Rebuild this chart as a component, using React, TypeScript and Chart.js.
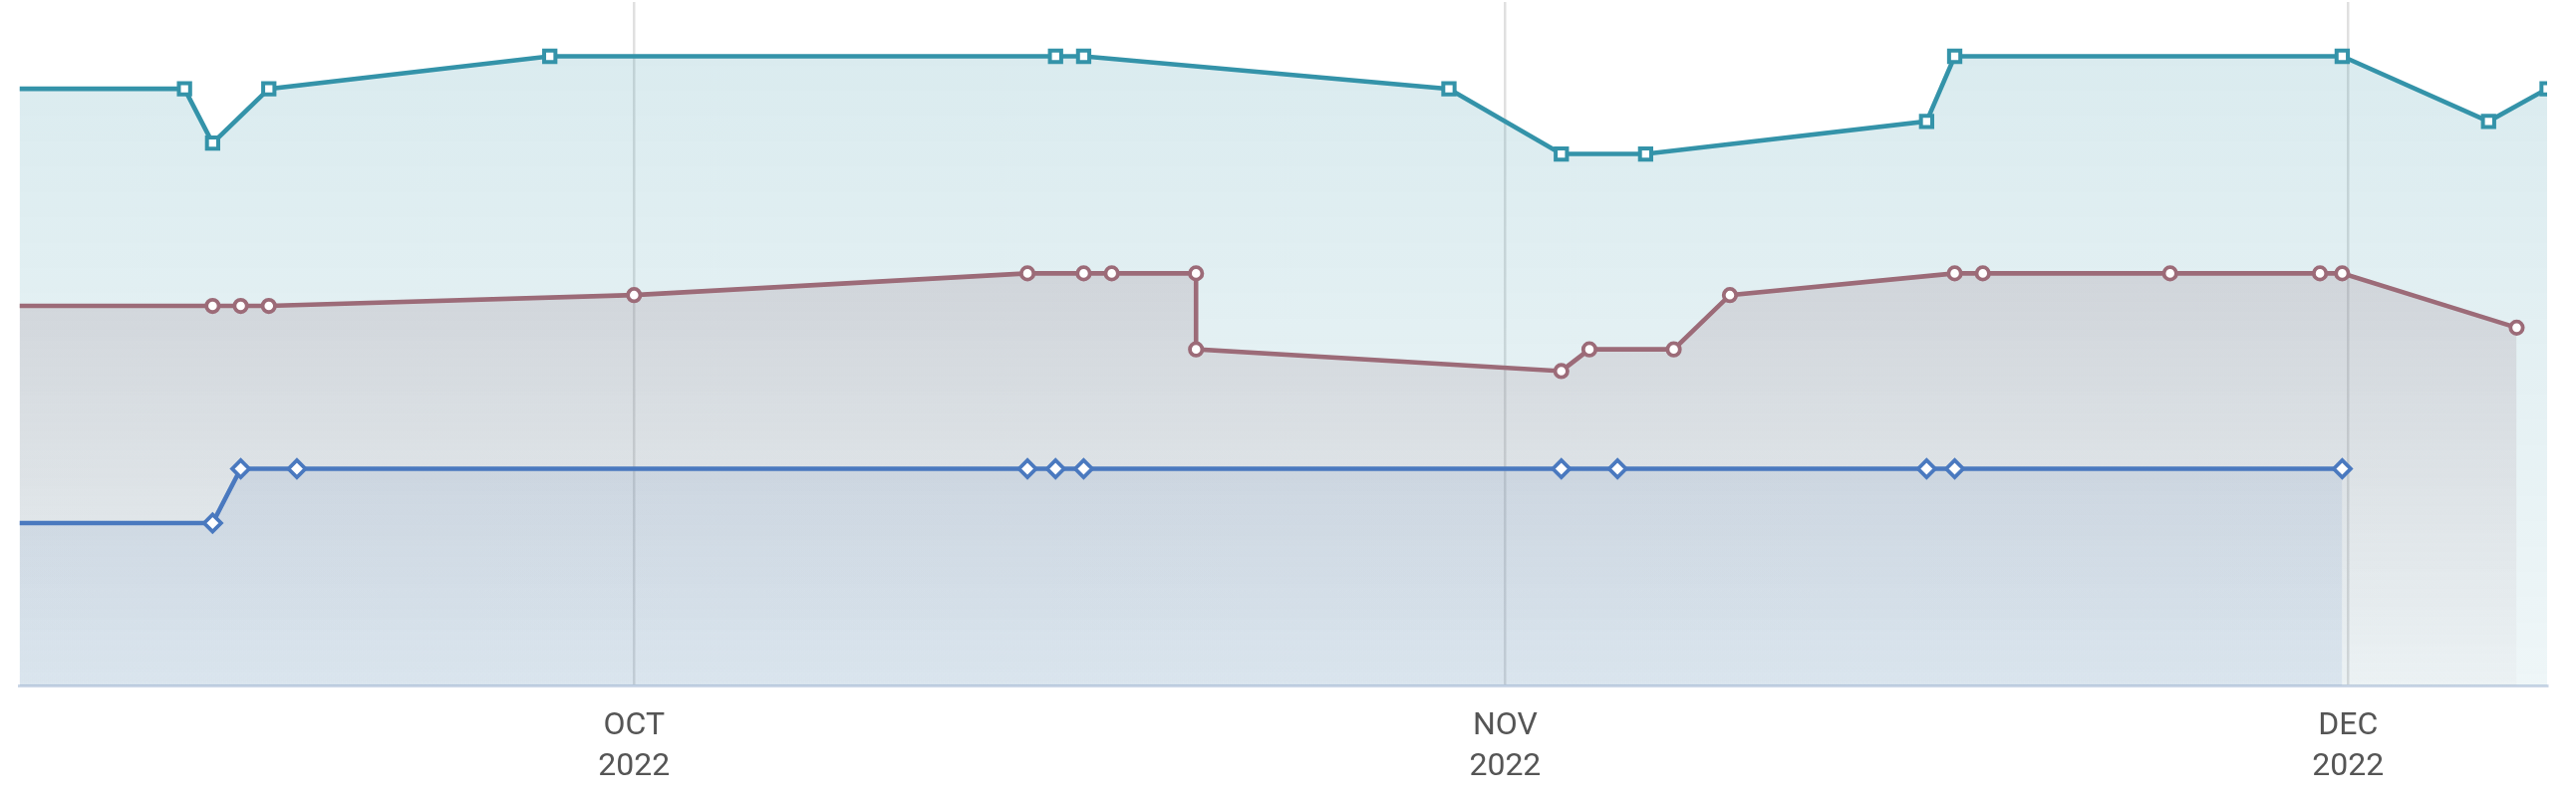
import React, { useEffect, useRef } from 'react';
import { Chart, registerables } from 'chart.js';

Chart.register(...registerables);

// x range of the plot
const rangeStart = '2022-09-09T03:00';
const rangeEnd = '2022-12-08T02:00';

// month ticks
const tickDates = ['2022-10-01T00:00', '2022-11-01T00:00', '2022-12-01T00:00'];
const tickLabels = [['OCT', '2022'], ['NOV', '2022'], ['DEC', '2022']];

// teal series (squares)
const tealDates = [
    rangeStart, '2022-09-15T00:00', '2022-09-16T00:00', '2022-09-18T00:00', '2022-09-28T00:00',
    '2022-10-16T00:00', '2022-10-17T00:00', '2022-10-30T00:00', '2022-11-03T00:00', '2022-11-06T00:00',
    '2022-11-16T00:00', '2022-11-17T00:00', '2022-11-30T19:00', '2022-12-06T00:00', '2022-12-08T02:00',
];
const tealValues = [55, 55, 50, 55, 58, 58, 58, 55, 49, 49, 52, 58, 58, 52, 55];

// mauve series (circles)
const mauveDates = [
    rangeStart, '2022-09-16T00:00', '2022-09-17T00:00', '2022-09-18T00:00', '2022-10-01T00:00',
    '2022-10-15T00:00', '2022-10-17T00:00', '2022-10-18T00:00', '2022-10-21T00:00', '2022-10-21T00:00',
    '2022-11-03T00:00', '2022-11-04T00:00', '2022-11-07T00:00', '2022-11-09T00:00', '2022-11-17T00:00',
    '2022-11-18T00:00', '2022-11-24T16:00', '2022-11-30T00:00', '2022-11-30T19:00', '2022-12-07T00:00',
];
const mauveValues = [35, 35, 35, 35, 36, 38, 38, 38, 38, 31, 29, 31, 31, 36, 38, 38, 38, 38, 38, 33];

// blue series (diamonds)
const blueDates = [
    rangeStart, '2022-09-16T00:00', '2022-09-17T00:00', '2022-09-19T00:00', '2022-10-15T00:00',
    '2022-10-16T00:00', '2022-10-17T00:00', '2022-11-03T00:00', '2022-11-05T00:00', '2022-11-16T00:00',
    '2022-11-17T00:00', '2022-11-30T19:00',
];
const blueValues = [15, 15, 20, 20, 20, 20, 20, 20, 20, 20, 20, 20];

const toMs = (s: string) => Date.parse(s + ':00Z');

const toPoints = (dates: string[], values: number[]) =>
    dates.map((d, i) => ({ x: toMs(d), y: values[i] }));

// vertical gradient over the chart area
const fillGradient = (rgb: string, topAlpha: number, bottomAlpha: number) => (ctx: any) => {
    const area = ctx.chart.chartArea;
    if (!area) return `rgba(${rgb},${topAlpha})`;
    const g = ctx.chart.ctx.createLinearGradient(0, area.top, 0, area.bottom);
    g.addColorStop(0, `rgba(${rgb},${topAlpha})`);
    g.addColorStop(1, `rgba(${rgb},${bottomAlpha})`);
    return g;
};

// the first point sits on the left edge and has no marker
const hideFirst = (r: number) => (ctx: any) => (ctx.dataIndex === 0 ? 0 : r);

export default function App() {
    const canvasRef = useRef<HTMLCanvasElement>(null);
    const chartRef = useRef<Chart | null>(null);

    useEffect(() => {
        if (!canvasRef.current) return;
        if (chartRef.current) chartRef.current.destroy();

        chartRef.current = new Chart(canvasRef.current, {
            type: 'line',
            data: {
                datasets: [
                    {
                        label: 'Teal',
                        data: toPoints(tealDates, tealValues),
                        borderColor: '#3493a9',
                        borderWidth: 4.6,
                        backgroundColor: fillGradient('51,145,166', 0.19, 0.084),
                        fill: 'origin',
                        pointStyle: 'rect',
                        pointRadius: hideFirst(8),
                        pointBorderWidth: 4,
                        pointBackgroundColor: '#ffffff',
                        pointBorderColor: '#3493a9',
                    },
                    {
                        label: 'Mauve',
                        data: toPoints(mauveDates, mauveValues),
                        borderColor: '#9c6b78',
                        borderWidth: 4.6,
                        backgroundColor: fillGradient('158,107,120', 0.32, 0.03),
                        fill: 'origin',
                        pointStyle: 'circle',
                        pointRadius: hideFirst(6.2),
                        pointBorderWidth: 3.8,
                        pointBackgroundColor: '#ffffff',
                        pointBorderColor: '#9c6b78',
                    },
                    {
                        label: 'Blue',
                        data: toPoints(blueDates, blueValues),
                        borderColor: '#4a79bf',
                        borderWidth: 4.6,
                        backgroundColor: fillGradient('74,121,191', 0.13, 0.11),
                        fill: 'origin',
                        pointStyle: 'rectRot',
                        pointRadius: hideFirst(8.5),
                        pointBorderWidth: 3.8,
                        pointBackgroundColor: '#ffffff',
                        pointBorderColor: '#4a79bf',
                    },
                ],
            },
            options: {
                animation: false,
                responsive: true,
                maintainAspectRatio: false,
                layout: { autoPadding: false, padding: { left: 19.5, right: 29, top: 2, bottom: 0 } },
                elements: { line: { tension: 0 } },
                plugins: {
                    legend: { display: false },
                    tooltip: { enabled: false },
                    filler: { drawTime: 'beforeDatasetsDraw' },
                },
                scales: {
                    x: {
                        type: 'linear',
                        min: toMs(rangeStart),
                        max: toMs(rangeEnd),
                        afterBuildTicks: (scale: any) => {
                            scale.ticks = tickDates.map((d) => ({ value: toMs(d) }));
                        },
                        afterFit: (scale: any) => {
                            scale.height = 123.6;
                        },
                        grid: {
                            color: '#e0e0e0',
                            lineWidth: 2.5,
                            drawTicks: false,
                        },
                        border: { color: '#cbd6e6', width: 3 },
                        ticks: {
                            autoSkip: false,
                            maxRotation: 0,
                            padding: 20,
                            color: '#555555',
                            font: { family: 'Roboto', size: 32, lineHeight: 1.29 },
                            callback: (_v: any, i: number) => tickLabels[i],
                        },
                    },
                    y: {
                        display: false,
                        min: 0,
                        max: 63,
                    },
                },
            },
        });

        return () => {
            if (chartRef.current) chartRef.current.destroy();
            chartRef.current = null;
        };
    }, []);

    return (
        <div style={{ position: 'fixed', top: 0, left: 0, width: 2585, height: 812, background: '#ffffff' }}>
            <canvas ref={canvasRef}></canvas>
        </div>
    );
}
